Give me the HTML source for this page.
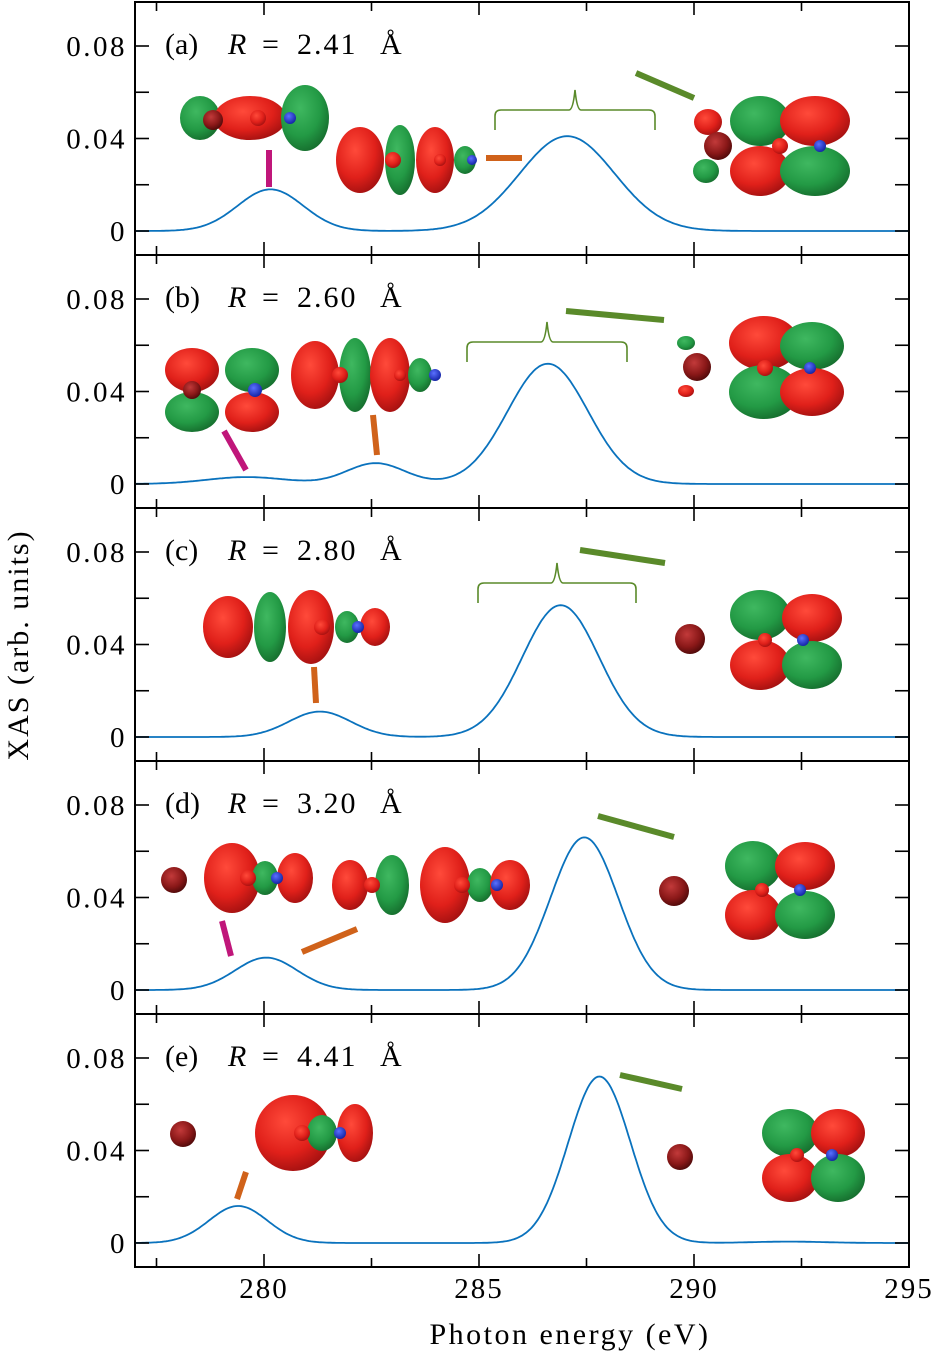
<!DOCTYPE html>
<html><head><meta charset="utf-8"><style>
body{margin:0;background:#fff;}
svg{display:block;font-family:"Liberation Serif",serif;}
</style></head><body>
<svg id="fig" width="939" height="1353" viewBox="0 0 939 1353" xmlns="http://www.w3.org/2000/svg">
<defs>
<radialGradient id="gr" cx="40%" cy="35%" r="70%"><stop offset="0" stop-color="#ff4a3a"/><stop offset="0.6" stop-color="#e0201a"/><stop offset="1" stop-color="#a01010"/></radialGradient>
<radialGradient id="gg" cx="40%" cy="35%" r="70%"><stop offset="0" stop-color="#3fb860"/><stop offset="0.6" stop-color="#239a45"/><stop offset="1" stop-color="#156b2c"/></radialGradient>
<radialGradient id="gd" cx="40%" cy="35%" r="70%"><stop offset="0" stop-color="#c23a3a"/><stop offset="0.6" stop-color="#8a1818"/><stop offset="1" stop-color="#4a0808"/></radialGradient>
<radialGradient id="gb" cx="40%" cy="35%" r="70%"><stop offset="0" stop-color="#5a70ff"/><stop offset="1" stop-color="#1020a0"/></radialGradient>
</defs>
<g id="panels"></g>
<text x="28" y="645" font-size="30" letter-spacing="2" text-anchor="middle" transform="rotate(-90 28 645)">XAS (arb. units)</text>
<text x="570" y="1344" font-size="30" letter-spacing="2.5" text-anchor="middle">Photon energy (eV)</text>
</svg>
<script>
const panelLabels = ["(a)","(b)","(c)","(d)","(e)"];
const panelR = ["2.41","2.60","2.80","3.20","4.41"];
// peaks per panel: [center eV, height, FWHM eV]
const peaksA = [[280.15,0.018,1.8],[287.05,0.041,2.6]];
const peaksB = [[279.6,0.003,2.2],[282.6,0.009,1.6],[286.6,0.052,2.2]];
const peaksC = [[281.3,0.011,1.7],[286.9,0.057,2.1]];
const peaksD = [[280.05,0.014,1.7],[287.45,0.066,1.85]];
const peaksE = [[279.4,0.016,1.6],[287.8,0.072,1.7],[292.2,0.0006,2.0]];
const allPeaks = [peaksA,peaksB,peaksC,peaksD,peaksE];
const xTicks = [280,285,290,295];
const yTicks = [0,0.04,0.08];

const X0=135,X1=909,E0=277,E1=295;
const PT=2,PH=253;
function xs(e){return X0+(e-E0)/(E1-E0)*(X1-X0);}
function ys(v,p){const zero=PT+p*PH+229;return zero-v*(92.5/0.04);}
const NS="http://www.w3.org/2000/svg";
const G=document.getElementById('panels');
function mk(tag,attrs,parent){const el=document.createElementNS(NS,tag);for(const k in attrs)el.setAttribute(k,attrs[k]);(parent||G).appendChild(el);return el;}

const orbitals=[
 [[200,118,20,22,'g'],[250,118,36,22,'r'],[305,118,24,33,'g'],[213,120,10,10,'d'],[258,118,8,8,'r'],[290,118,6,6,'b'],
  [360,160,24,33,'r'],[400,160,15,35,'g'],[435,160,19,33,'r'],[465,160,11,14,'g'],[393,160,8,8,'r'],[440,160,6,6,'r'],[472,160,5,5,'b'],
  [708,122,14,13,'r'],[706,171,13,12,'g'],[760,121,30,25,'g'],[815,121,35,25,'r'],[760,171,30,25,'r'],[815,171,35,25,'g'],[718,146,14,14,'d'],[780,146,8,8,'r'],[820,146,6,6,'b']],
 [[192,370,27,22,'r'],[192,412,27,20,'g'],[252,370,27,22,'g'],[252,412,27,20,'r'],[192,390,9,9,'d'],[255,390,7,7,'b'],
  [315,375,24,34,'r'],[355,375,16,37,'g'],[390,375,20,37,'r'],[420,375,12,17,'g'],[340,375,8,8,'r'],[400,375,6,6,'r'],[435,375,6,6,'b'],
  [686,343,9,7,'g'],[686,391,8,6,'r'],[764,343,35,27,'r'],[812,346,32,24,'g'],[764,392,35,27,'g'],[812,392,32,24,'r'],[697,367,14,14,'d'],[765,368,8,8,'r'],[810,368,6,6,'b']],
 [[228,627,25,31,'r'],[270,627,16,35,'g'],[311,627,23,37,'r'],[347,627,12,16,'g'],[375,627,15,19,'r'],[322,627,8,8,'r'],[358,627,6,6,'b'],
  [690,639,15,15,'d'],[760,615,30,25,'g'],[812,618,30,24,'r'],[760,665,30,25,'r'],[812,665,30,24,'g'],[765,640,7,7,'r'],[803,640,6,6,'b']],
 [[174,880,13,13,'d'],[232,878,28,35,'r'],[265,878,13,17,'g'],[295,878,18,25,'r'],[248,878,8,8,'r'],[277,878,6,6,'b'],
  [350,885,18,25,'r'],[392,885,17,30,'g'],[445,885,25,38,'r'],[480,885,13,17,'g'],[510,885,20,25,'r'],[372,885,8,8,'r'],[462,885,8,8,'r'],[497,885,6,6,'b'],
  [674,891,15,15,'d'],[753,866,28,25,'g'],[805,866,30,24,'r'],[753,915,28,25,'r'],[805,915,30,24,'g'],[762,890,7,7,'r'],[800,890,6,6,'b']],
 [[183,1134,13,13,'d'],[293,1133,38,38,'r'],[322,1133,15,18,'g'],[355,1133,18,29,'r'],[302,1133,8,8,'r'],[340,1133,6,6,'b'],
  [680,1157,13,13,'d'],[790,1133,28,24,'g'],[838,1133,27,24,'r'],[790,1178,28,24,'r'],[838,1178,27,24,'g'],[797,1155,7,7,'r'],[832,1155,6,6,'b']]
];
const bars=[
 [[269,150,269,187,'#c0167a'],[486,158,522,158,'#d0621a'],[636,73,694,98,'#5a8a2a']],
 [[224,431,246,470,'#c0167a'],[373,415,377,455,'#d0621a'],[566,311,664,320,'#5a8a2a']],
 [[314,667,316,703,'#d0621a'],[580,550,665,563,'#5a8a2a']],
 [[222,921,231,956,'#c0167a'],[302,952,357,929,'#d0621a'],[598,816,674,837,'#5a8a2a']],
 [[246,1172,237,1199,'#d0621a'],[620,1075,682,1089,'#5a8a2a']]
];
const braces=[[495,655,130,90],[467,627,362,322],[478,636,603,563],null,null];
const fillMap={r:'url(#gr)',g:'url(#gg)',d:'url(#gd)',b:'url(#gb)'};

for(let p=0;p<5;p++){
  const top=PT+p*PH, bot=top+PH;
  const og=mk('g',{});
  
  
  orbitals[p].forEach(o=>{
    const e=mk('ellipse',{cx:o[0],cy:o[1],rx:o[2],ry:o[3],fill:fillMap[o[4]]},og);
    
    
  });
  bars[p].forEach(b=>{
    const l=mk('line',{x1:b[0],y1:b[1],x2:b[2],y2:b[3],stroke:b[4],'stroke-width':6});
    
    
  });
  if(braces[p]){
    const [a,b,yb,yt]=braces[p];const m=(a+b)/2;
    const br=mk('path',{d:`M${a},${yb} L${a},${yb-14} Q${a},${yb-20} ${a+6},${yb-20} L${m-6},${yb-20} Q${m-2},${yb-20} ${m},${yt} Q${m+2},${yb-20} ${m+6},${yb-20} L${b-6},${yb-20} Q${b},${yb-20} ${b},${yb-14} L${b},${yb}`,fill:'none',stroke:'#5a8a2a','stroke-width':1.6});
    
    
  }
  let d='';
  for(let i=0;i<=400;i++){
    const e=E0+(E1-E0)*i/400;let v=0;
    allPeaks[p].forEach(pk=>{const s=pk[2]/2.3548;v+=pk[1]*Math.exp(-((e-pk[0])**2)/(2*s*s));});
    d+=(i?'L':'M')+xs(e).toFixed(1)+','+ys(v,p).toFixed(1);
  }
  const c=mk('path',{d:d,fill:'none',stroke:'#0a72bd','stroke-width':1.8});
  
  
  const fr=mk('rect',{x:X0,y:top,width:X1-X0,height:PH,fill:'none',stroke:'#000','stroke-width':2});
  
  
  for(let e=277.5;e<=295.01;e+=2.5){
    const L=(e%5===0)?13:9;
    mk('line',{x1:xs(e),y1:top,x2:xs(e),y2:top+L,stroke:'#000','stroke-width':1.6});
    mk('line',{x1:xs(e),y1:bot,x2:xs(e),y2:bot-L,stroke:'#000','stroke-width':1.6});
  }
  for(let v=0;v<=0.0801;v+=0.02){
    mk('line',{x1:X0,y1:ys(v,p),x2:X0+14,y2:ys(v,p),stroke:'#000','stroke-width':1.6});
    mk('line',{x1:X1,y1:ys(v,p),x2:X1-14,y2:ys(v,p),stroke:'#000','stroke-width':1.6});
  }
  yTicks.forEach(v=>{
    const t=mk('text',{x:127,y:ys(v,p)+10,'font-size':29,'letter-spacing':2.5,'text-anchor':'end'});
    t.textContent=v===0?'0':v.toFixed(2);
    
    
  });
  const lab=mk('text',{y:top+52,'font-size':30});
  lab.innerHTML='<tspan x="165">'+panelLabels[p]+'</tspan><tspan x="228" font-style="italic">R</tspan><tspan x="262">=</tspan><tspan x="297" letter-spacing="2">'+panelR[p]+'</tspan><tspan x="380">Å</tspan>';
  
  
}
xTicks.forEach(e=>{
  const t=mk('text',{x:xs(e),y:1298,'font-size':29,'letter-spacing':2,'text-anchor':'middle'});
  t.textContent=e;
  
  
});
</script>
</body></html>
